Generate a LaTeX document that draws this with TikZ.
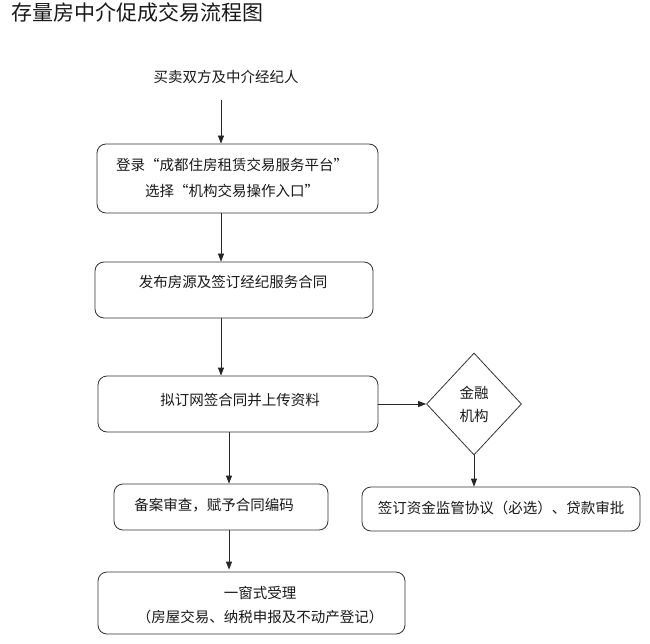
\documentclass[tikz,border=0pt]{standalone}
\usepackage{fontspec}
\newfontfamily\cjk{Noto Sans CJK SC}
\usetikzlibrary{shapes.geometric,arrows.meta}
\begin{document}
\begin{tikzpicture}[x=1pt,y=-1pt,
  every node/.style={font=\cjk\fontsize{14.5}{24}\selectfont, text=black!90},
  box/.style={draw=black!80, line width=0.8pt, rounded corners=9pt, inner sep=0pt},
  txt/.style={inner sep=0pt, align=center},
  dec/.style={draw=black!80, line width=0.8pt, diamond, inner sep=0pt, align=center,
              minimum width=95pt, minimum height=102pt},
  arr/.style={-{Triangle[length=8pt,width=6pt]}, line width=0.8pt, draw=black!85}]
\useasboundingbox (0,0) rectangle (650,644);
\fill[white] (0,0) rectangle (650,644);

% title
\node[txt, font=\cjk\fontsize{21}{24}\selectfont] (title) at (138,13) {存量房中介促成交易流程图};

% start text
\node[txt] (start) at (226,77) {买卖双方及中介经纪人};

% boxes
\node[box, minimum width=281pt, minimum height=69pt] (b1) at (237.5,178.5) {};
\node[txt, font=\cjk\fontsize{14.5}{26}\selectfont] (t1) at (232,178) {登录“成都住房租赁交易服务平台”\\选择“机构交易操作入口”};

\node[box, minimum width=278pt, minimum height=56pt] (b2) at (234,290) {};
\node[txt] (t2) at (233,282) {发布房源及签订经纪服务合同};

\node[box, minimum width=280pt, minimum height=56pt] (b3) at (238,404) {};
\node[txt] (t3) at (240,400) {拟订网签合同并上传资料};

\node[dec, font=\cjk\fontsize{14.5}{23}\selectfont] (d) at (474,404) {金融\\机构};

\node[box, minimum width=214pt, minimum height=46pt] (b4) at (221,507) {};
\node[txt] (t4) at (214,505) {备案审查，赋予合同编码};

\node[box, minimum width=278pt, minimum height=44pt] (b5) at (501,509) {};
\node[txt] (t5) at (501,508) {签订资金监管协议（必选）、贷款审批};

\node[box, minimum width=307pt, minimum height=62pt] (b6) at (251.5,603) {};
\node[txt] (t6) at (260,605) {一窗式受理\\（房屋交易、纳税申报及不动产登记）};

% connectors
\coordinate (c1) at (221,100);
\coordinate (c2) at (229,0);
\draw[arr] (c1) -- (c1 |- b1.north);
\draw[arr] (b1.south -| c1) -- (b2.north -| c1);
\draw[arr] (b2.south -| c1) -- (b3.north -| c1);
\draw[arr] (b3.east) -- (d.west);
\draw[arr] (d.south) -- (d.south |- b5.north);
\draw[arr] (b3.south -| c2) -- (b4.north -| c2);
\draw[arr] (b4.south -| c2) -- ([yshift=2pt]b6.north -| c2);
\end{tikzpicture}
\end{document}
